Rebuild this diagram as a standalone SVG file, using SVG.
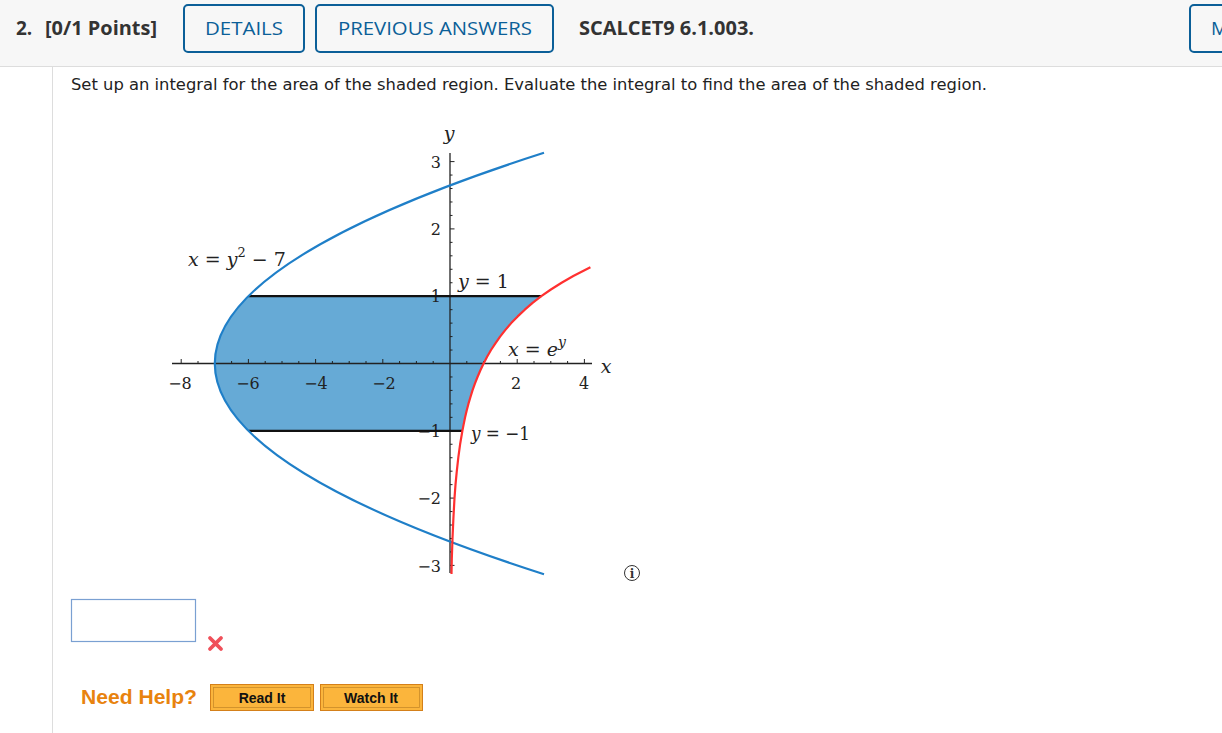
<svg xmlns="http://www.w3.org/2000/svg" width="1222" height="733" viewBox="0 0 1222 733">
<style>
.hdr{font-family:"Open Sans","Liberation Sans",sans-serif;font-size:19px;fill:#333;font-weight:bold}
.btn{fill:none;stroke:#0b5f98;stroke-width:2}
.btxt{font-family:"Open Sans","Liberation Sans",sans-serif;font-size:19px;fill:#0b5f98}
.q{font-family:"DejaVu Sans","Verdana",sans-serif;font-size:16px;fill:#222}
.tk{font-family:"DejaVu Serif","Liberation Serif",serif;font-size:16px;fill:#222}
.m{font-family:"DejaVu Serif","Liberation Serif",serif;font-size:19px;fill:#222}
.it{font-style:italic}
.axis{stroke:#222;stroke-width:1.3;fill:none}
.tick{stroke:#222;stroke-width:1}
.help{font-family:"Liberation Sans",Arial,sans-serif;font-weight:bold}
</style>
<rect x="0" y="0" width="1222" height="733" fill="#ffffff"/>
<g id="header">
<rect x="0" y="0" width="1222" height="66" fill="#f7f7f7"/>
<line x1="0" y1="66.5" x2="1222" y2="66.5" stroke="#dddddd" stroke-width="1"/>
<text class="hdr" x="16" y="35">2.</text>
<text class="hdr" x="45" y="35" textLength="112" lengthAdjust="spacingAndGlyphs">[0/1 Points]</text>
<rect class="btn" x="184" y="5" width="120" height="47" rx="4"/>
<text class="btxt" x="205" y="35" textLength="78" lengthAdjust="spacingAndGlyphs">DETAILS</text>
<rect class="btn" x="316" y="5" width="237" height="47" rx="4"/>
<text class="btxt" x="338" y="35" textLength="194" lengthAdjust="spacingAndGlyphs">PREVIOUS ANSWERS</text>
<text class="hdr" x="579" y="35" textLength="175" lengthAdjust="spacingAndGlyphs">SCALCET9 6.1.003.</text>
<rect class="btn" x="1190" y="5" width="60" height="47" rx="4"/>
<text class="btxt" x="1211" y="35">M</text>
</g>
<line x1="52.5" y1="67" x2="52.5" y2="733" stroke="#dddddd" stroke-width="1"/>
<text class="q" x="71" y="90" textLength="916" lengthAdjust="spacingAndGlyphs">Set up an integral for the area of the shaded region. Evaluate the integral to find the area of the shaded region.</text>

<g id="graph">
<path id="shaded" d="M248.4,430.8 Q181.2,363.5 248.4,296.2 L541.3,296.2 L532.6,302.9 L524.8,309.7 L517.7,316.4 L511.2,323.1 L505.4,329.9 L500.1,336.6 L495.4,343.3 L491.0,350.0 L487.1,356.8 L483.6,363.5 L480.4,370.2 L477.5,377.0 L474.9,383.7 L472.5,390.4 L470.4,397.2 L468.4,403.9 L466.7,410.6 L465.1,417.3 L463.7,424.1 L462.4,430.8 Z" fill="#66aad6"/>
<g id="axes">
<line class="axis" x1="172" y1="363.5" x2="592" y2="363.5"/>
<line class="axis" x1="450" y1="153" x2="450" y2="573"/>
<path class="tick" d="M181.2,363.5v-4.5 M198,363.5v-2.5 M214.8,363.5v-2.5 M231.6,363.5v-2.5 M248.4,363.5v-4.5 M265.2,363.5v-2.5 M282,363.5v-2.5 M298.8,363.5v-2.5 M315.6,363.5v-4.5 M332.4,363.5v-2.5 M349.2,363.5v-2.5 M366,363.5v-2.5 M382.8,363.5v-4.5 M399.6,363.5v-2.5 M416.4,363.5v-2.5 M433.2,363.5v-2.5 M466.8,363.5v-2.5 M483.6,363.5v-2.5 M500.4,363.5v-2.5 M517.2,363.5v-4.5 M534,363.5v-2.5 M550.8,363.5v-2.5 M567.6,363.5v-2.5 M584.4,363.5v-4.5"/>
<path class="tick" d="M450,161.6h4.5 M450,175.06h2.5 M450,188.52h2.5 M450,201.98h2.5 M450,215.44h2.5 M450,228.9h4.5 M450,242.36h2.5 M450,255.82h2.5 M450,269.28h2.5 M450,282.74h2.5 M450,296.2h4.5 M450,309.66h2.5 M450,323.12h2.5 M450,336.58h2.5 M450,350.04h2.5 M450,376.96h2.5 M450,390.42h2.5 M450,403.88h2.5 M450,417.34h2.5 M450,430.8h4.5 M450,444.26h2.5 M450,457.72h2.5 M450,471.18h2.5 M450,484.64h2.5 M450,498.1h4.5 M450,511.56h2.5 M450,525.02h2.5 M450,538.48h2.5 M450,551.94h2.5 M450,565.4h4.5"/>
<text class="tk" x="441" y="168" text-anchor="end">3</text>
<text class="tk" x="441" y="235" text-anchor="end">2</text>
<text class="tk" x="441" y="302" text-anchor="end">1</text>
<text class="tk" x="441" y="437" text-anchor="end">−1</text>
<text class="tk" x="441" y="504" text-anchor="end">−2</text>
<text class="tk" x="441" y="572" text-anchor="end">−3</text>
<text class="tk" x="180" y="389" text-anchor="middle">−8</text>
<text class="tk" x="248" y="389" text-anchor="middle">−6</text>
<text class="tk" x="316" y="389" text-anchor="middle">−4</text>
<text class="tk" x="384" y="389" text-anchor="middle">−2</text>
<text class="tk" x="516" y="389" text-anchor="middle">2</text>
<text class="tk" x="584" y="389" text-anchor="middle">4</text>
<text class="m it" x="449" y="140" text-anchor="middle">y</text>
<text class="m it" x="606" y="373" text-anchor="middle">x</text>
</g>
<g id="bounds" stroke="#111" stroke-width="2.2">
<line x1="248.4" y1="296.2" x2="541.3" y2="296.2"/>
<line x1="248.4" y1="430.8" x2="462.4" y2="430.8"/>
</g>
<path id="parabola" d="M544,574.2 Q-114.4,363.5 544,152.8" fill="none" stroke="#1f7fc8" stroke-width="2.2"/>
<polyline id="expcurve" fill="none" stroke="#ff3030" stroke-width="2.2" stroke-linejoin="round" points="590.4,267.3 573.3,276.0 561.6,282.7 550.9,289.5 541.3,296.2 532.6,302.9 524.8,309.7 517.7,316.4 511.2,323.1 505.4,329.9 500.1,336.6 495.4,343.3 491.0,350.0 487.1,356.8 483.6,363.5 480.4,370.2 477.5,377.0 474.9,383.7 472.5,390.4 470.4,397.2 468.4,403.9 466.7,410.6 465.1,417.3 463.7,424.1 462.4,430.8 460.1,444.3 458.3,457.7 456.8,471.2 455.5,484.6 454.5,498.1 453.4,518.3 452.5,538.5 451.8,558.7 451.5,574.1"/>
<g id="labels">
<text class="m" x="188" y="266"><tspan class="it">x</tspan> = <tspan class="it">y</tspan><tspan font-size="13" dy="-9">2</tspan><tspan dy="9"> − 7</tspan></text>
<text class="m" x="458" y="288"><tspan class="it">y</tspan> = 1</text>
<text class="m" x="508" y="356"><tspan class="it">x</tspan> = <tspan class="it">e</tspan><tspan class="it" font-size="14" dy="-9">y</tspan></text>
<text class="m" x="471" y="440" textLength="59" lengthAdjust="spacingAndGlyphs"><tspan class="it">y</tspan> = −1</text>
</g>
</g>
<g id="info">
<circle cx="632" cy="573" r="7.5" fill="none" stroke="#333" stroke-width="1"/>
<text x="632" y="578" text-anchor="middle" font-family="DejaVu Serif,Liberation Serif,serif" font-size="12" font-weight="bold" fill="#333">i</text>
</g>
<g id="answer">
<rect x="71.5" y="599.5" width="124" height="42" fill="#fff" stroke="#7aa0d2" stroke-width="1.2"/>
<path d="M210,638 L221,649 M221,638 L210,649" stroke="#f0505a" stroke-width="3.8" stroke-linecap="round"/>
</g>
<g id="help">
<text class="help" x="81" y="704" font-size="21" fill="#e8830e" textLength="116" lengthAdjust="spacingAndGlyphs">Need Help?</text>
<rect x="210.5" y="684.5" width="103" height="26" fill="#fbb53c" stroke="#d4801a"/>
<rect x="213.5" y="687.5" width="97" height="20" fill="none" stroke="#c98a2a" stroke-width="0.8"/>
<text class="help" x="262" y="703" font-size="14" fill="#111" text-anchor="middle">Read It</text>
<rect x="320.5" y="684.5" width="102" height="26" fill="#fbb53c" stroke="#d4801a"/>
<rect x="323.5" y="687.5" width="96" height="20" fill="none" stroke="#c98a2a" stroke-width="0.8"/>
<text class="help" x="371" y="703" font-size="14" fill="#111" text-anchor="middle">Watch It</text>
</g>
</svg>
